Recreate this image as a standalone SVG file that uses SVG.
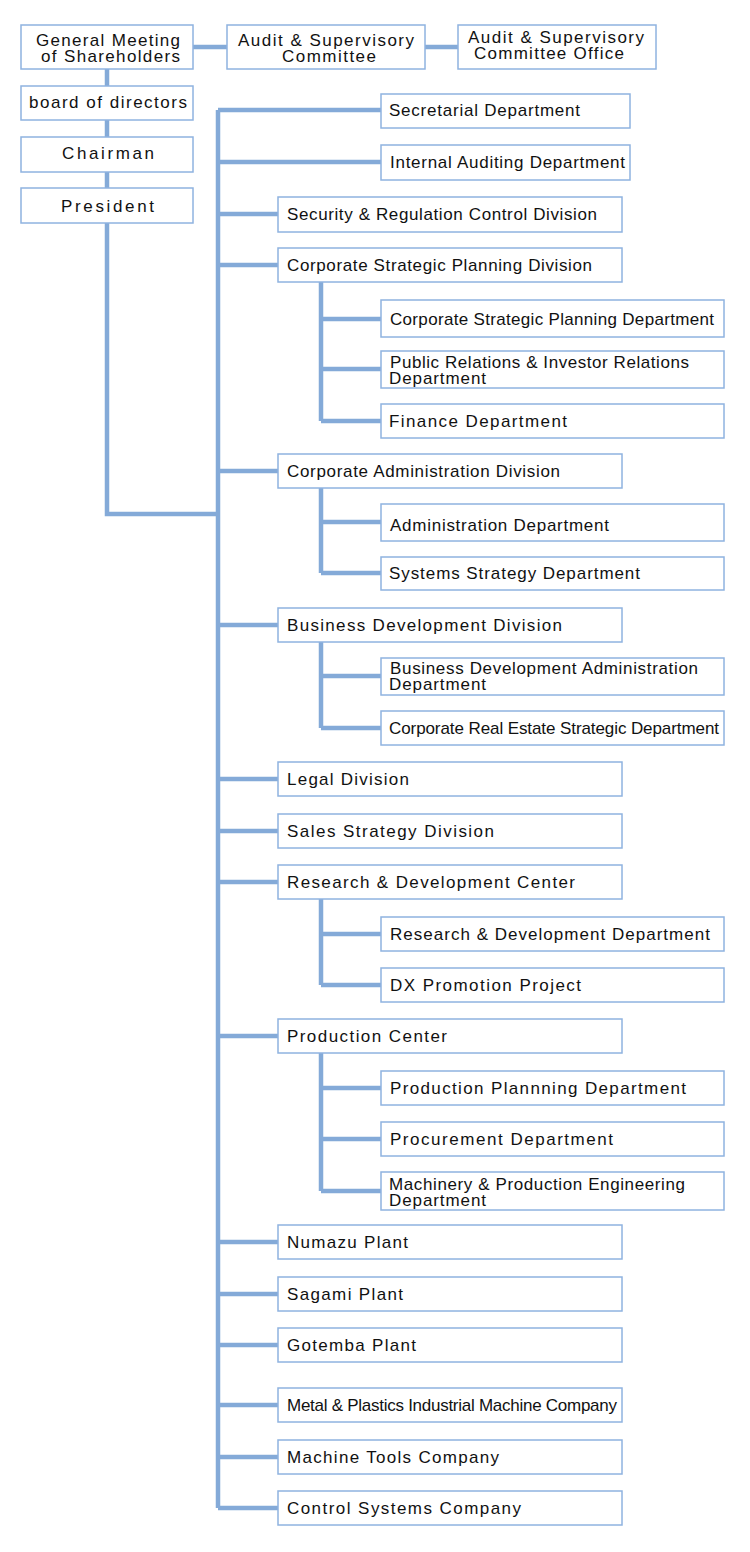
<svg xmlns="http://www.w3.org/2000/svg" width="750" height="1552" viewBox="0 0 750 1552">
<style>
.b{fill:#fff;stroke:#8fb3e0;stroke-width:1.5}
.t{font-family:"Liberation Sans",Arial,sans-serif;font-size:17px;fill:#111}
.c{fill:none;stroke:#84aad8;stroke-width:4.5}
</style>
<rect width="750" height="1552" fill="#fff"/>
<g id="connectors">
<path class="c" d="M193 47H227M425 47H458"/>
<path class="c" d="M107 69V86M107 120V137M107 172V188M107 223V514H218"/>
<path class="c" d="M218 110V1508"/>
<path class="c" d="M218 110H381M218 162H381M218 214H278M218 265H278M218 471H278M218 625H278M218 779H278M218 831H278M218 882H278M218 1036H278M218 1242H278M218 1294H278M218 1345H278M218 1405H278M218 1457H278M218 1508H278"/>
<path class="c" d="M321 282V421M321 319H381M321 369H381M321 421H381"/>
<path class="c" d="M321 488V573M321 522H381M321 573H381"/>
<path class="c" d="M321 642V728M321 676H381M321 728H381"/>
<path class="c" d="M321 899V985M321 934H381M321 985H381"/>
<path class="c" d="M321 1053V1191M321 1088H381M321 1139H381M321 1191H381"/>
</g>
<g id="gm"><rect class="b" x="21" y="25" width="172" height="44"/><text class="t" x="36" y="46" textLength="144" lengthAdjust="spacing">General Meeting</text><text class="t" x="41" y="62" textLength="139" lengthAdjust="spacing">of Shareholders</text></g>
<g id="asc"><rect class="b" x="227" y="25" width="198" height="44"/><text class="t" x="238" y="46" textLength="176" lengthAdjust="spacing">Audit &amp; Supervisory</text><text class="t" x="282" y="62" textLength="94" lengthAdjust="spacing">Committee</text></g>
<g id="asco"><rect class="b" x="458" y="25" width="198" height="44"/><text class="t" x="468" y="43" textLength="176" lengthAdjust="spacing">Audit &amp; Supervisory</text><text class="t" x="474" y="59" textLength="150" lengthAdjust="spacing">Committee Office</text></g>
<g id="board"><rect class="b" x="21" y="86" width="172" height="34"/><text class="t" x="29" y="108" textLength="158" lengthAdjust="spacing">board of directors</text></g>
<g id="chairman"><rect class="b" x="21" y="137" width="172" height="35"/><text class="t" x="62" y="159" textLength="92" lengthAdjust="spacing">Chairman</text></g>
<g id="president"><rect class="b" x="21" y="188" width="172" height="35"/><text class="t" x="61" y="212" textLength="93" lengthAdjust="spacing">President</text></g>
<g id="secretarial"><rect class="b" x="381" y="94" width="249" height="34"/><text class="t" x="389" y="116" textLength="191" lengthAdjust="spacing">Secretarial Department</text></g>
<g id="internal"><rect class="b" x="381" y="145" width="249" height="35"/><text class="t" x="390" y="168" textLength="235" lengthAdjust="spacing">Internal Auditing Department</text></g>
<g id="security"><rect class="b" x="278" y="197" width="344" height="35"/><text class="t" x="287" y="220" textLength="310" lengthAdjust="spacing">Security &amp; Regulation Control Division</text></g>
<g id="cspd"><rect class="b" x="278" y="248" width="344" height="34"/><text class="t" x="287" y="271" textLength="305" lengthAdjust="spacing">Corporate Strategic Planning Division</text></g>
<g id="cspdep"><rect class="b" x="381" y="300" width="343" height="37"/><text class="t" x="390" y="325" textLength="324" lengthAdjust="spacing">Corporate Strategic Planning Department</text></g>
<g id="prir"><rect class="b" x="381" y="351" width="343" height="37"/><text class="t" x="390" y="368" textLength="299" lengthAdjust="spacing">Public Relations &amp; Investor Relations</text><text class="t" x="389" y="384" textLength="97" lengthAdjust="spacing">Department</text></g>
<g id="finance"><rect class="b" x="381" y="404" width="343" height="34"/><text class="t" x="389" y="427" textLength="178" lengthAdjust="spacing">Finance Department</text></g>
<g id="cad"><rect class="b" x="278" y="454" width="344" height="34"/><text class="t" x="287" y="477" textLength="273" lengthAdjust="spacing">Corporate Administration Division</text></g>
<g id="admin"><rect class="b" x="381" y="504" width="343" height="37"/><text class="t" x="390" y="531" textLength="219" lengthAdjust="spacing">Administration Department</text></g>
<g id="systems"><rect class="b" x="381" y="557" width="343" height="33"/><text class="t" x="389" y="579" textLength="251" lengthAdjust="spacing">Systems Strategy Department</text></g>
<g id="bdd"><rect class="b" x="278" y="608" width="344" height="34"/><text class="t" x="287" y="631" textLength="275" lengthAdjust="spacing">Business Development Division</text></g>
<g id="bdad"><rect class="b" x="381" y="658" width="343" height="37"/><text class="t" x="390" y="674" textLength="308" lengthAdjust="spacing">Business Development Administration</text><text class="t" x="389" y="690" textLength="97" lengthAdjust="spacing">Department</text></g>
<g id="cresd"><rect class="b" x="381" y="711" width="343" height="34"/><text class="t" x="389" y="734" textLength="330" lengthAdjust="spacing">Corporate Real Estate Strategic Department</text></g>
<g id="legal"><rect class="b" x="278" y="762" width="344" height="34"/><text class="t" x="287" y="785" textLength="122" lengthAdjust="spacing">Legal Division</text></g>
<g id="sales"><rect class="b" x="278" y="814" width="344" height="34"/><text class="t" x="287" y="837" textLength="207" lengthAdjust="spacing">Sales Strategy Division</text></g>
<g id="rdc"><rect class="b" x="278" y="865" width="344" height="34"/><text class="t" x="287" y="888" textLength="288" lengthAdjust="spacing">Research &amp; Development Center</text></g>
<g id="rdd"><rect class="b" x="381" y="917" width="343" height="34"/><text class="t" x="390" y="940" textLength="320" lengthAdjust="spacing">Research &amp; Development Department</text></g>
<g id="dx"><rect class="b" x="381" y="968" width="343" height="34"/><text class="t" x="390" y="991" textLength="191" lengthAdjust="spacing">DX Promotion Project</text></g>
<g id="pc"><rect class="b" x="278" y="1019" width="344" height="34"/><text class="t" x="287" y="1042" textLength="160" lengthAdjust="spacing">Production Center</text></g>
<g id="ppd"><rect class="b" x="381" y="1071" width="343" height="34"/><text class="t" x="390" y="1094" textLength="296" lengthAdjust="spacing">Production Plannning Department</text></g>
<g id="proc"><rect class="b" x="381" y="1122" width="343" height="34"/><text class="t" x="390" y="1145" textLength="223" lengthAdjust="spacing">Procurement Department</text></g>
<g id="mped"><rect class="b" x="381" y="1172" width="343" height="38"/><text class="t" x="389" y="1190" textLength="296" lengthAdjust="spacing">Machinery &amp; Production Engineering</text><text class="t" x="389" y="1206" textLength="97" lengthAdjust="spacing">Department</text></g>
<g id="numazu"><rect class="b" x="278" y="1225" width="344" height="34"/><text class="t" x="287" y="1248" textLength="121" lengthAdjust="spacing">Numazu Plant</text></g>
<g id="sagami"><rect class="b" x="278" y="1277" width="344" height="34"/><text class="t" x="287" y="1300" textLength="116" lengthAdjust="spacing">Sagami Plant</text></g>
<g id="gotemba"><rect class="b" x="278" y="1328" width="344" height="34"/><text class="t" x="287" y="1351" textLength="129" lengthAdjust="spacing">Gotemba Plant</text></g>
<g id="metal"><rect class="b" x="278" y="1388" width="344" height="34"/><text class="t" x="287" y="1411" textLength="330" lengthAdjust="spacing">Metal &amp; Plastics Industrial Machine Company</text></g>
<g id="tools"><rect class="b" x="278" y="1440" width="344" height="34"/><text class="t" x="287" y="1463" textLength="212" lengthAdjust="spacing">Machine Tools Company</text></g>
<g id="control"><rect class="b" x="278" y="1491" width="344" height="34"/><text class="t" x="287" y="1514" textLength="234" lengthAdjust="spacing">Control Systems Company</text></g>
</svg>
